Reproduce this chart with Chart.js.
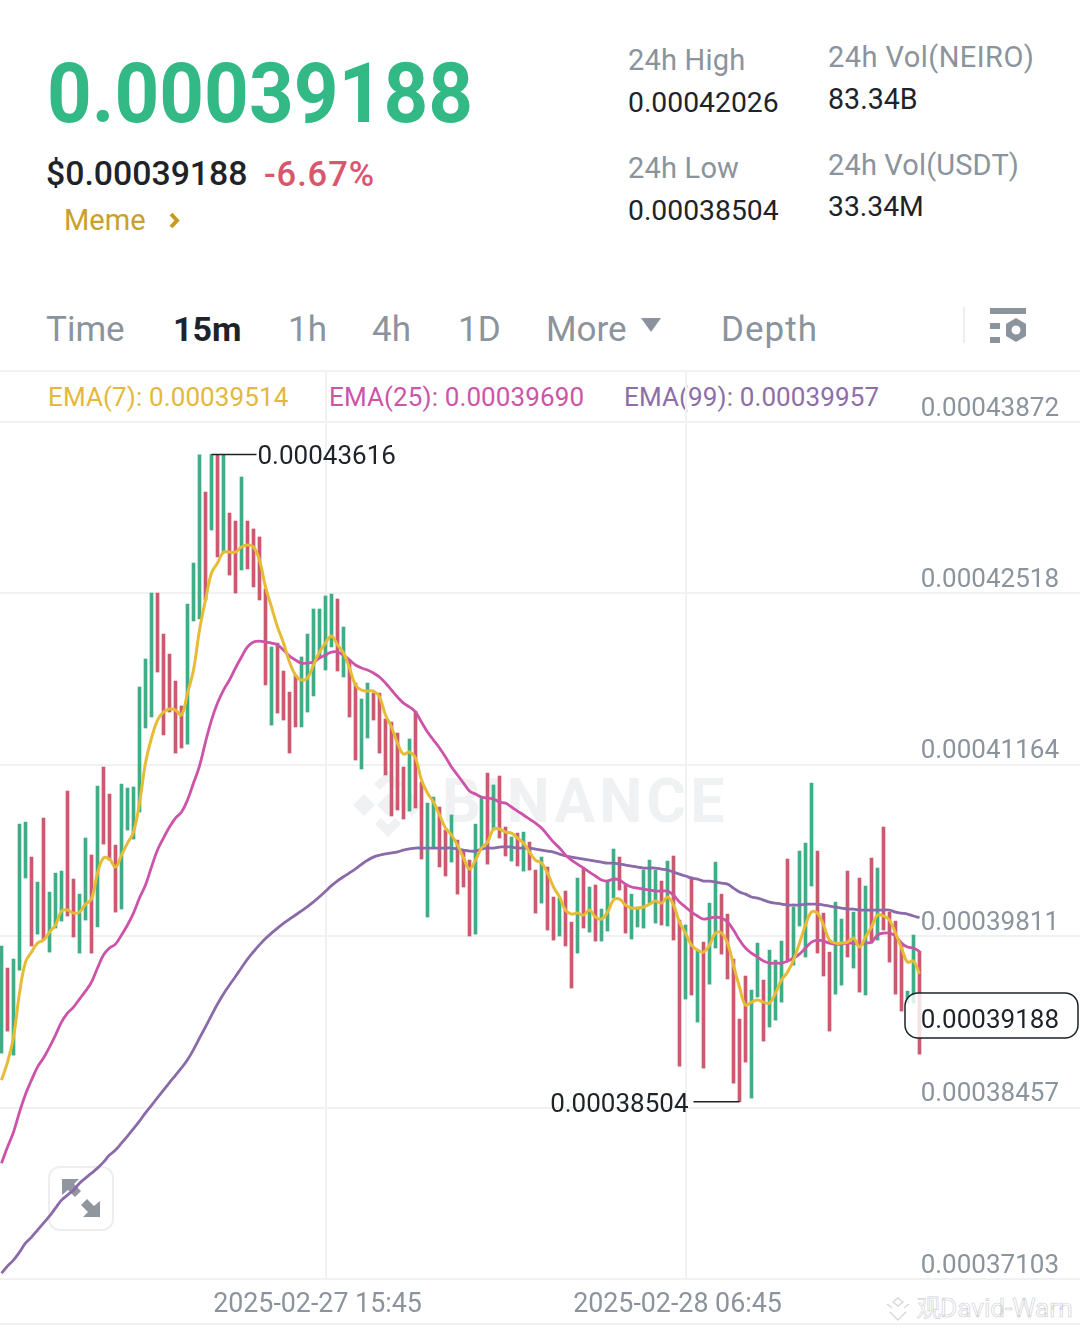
<!DOCTYPE html>
<html>
<head>
<meta charset="utf-8">
<title>NEIRO/USDT 15m</title>
<script src="https://cdn.jsdelivr.net/npm/chart.js@4"></script>
<style>
  html, body { margin: 0; padding: 0; background: #fff; }
  body { width: 1080px; height: 1329px; position: relative; overflow: hidden; font-family: Roboto, sans-serif; color: #1e2329; }
  .t { position: absolute; white-space: nowrap; line-height: 1; }
  .gray { color: #8b939c; }
  .rule { position: absolute; left: 0; width: 1080px; height: 2px; background: #f0f1f3; }
  canvas { position: absolute; left: 0; top: 372px; }
</style>
</head>
<body>
<div class="t" style="left:47px;top:52px;font-size:84px;font-weight:700;color:#33b986;transform-origin:0 0;transform:scale(.93,1);">0.00039188</div>
<div class="t" style="left:46px;top:157px;font-size:33.8px;font-weight:500;">$0.00039188</div>
<div class="t" style="left:264px;top:157px;font-size:34.5px;font-weight:500;color:#d9576c;letter-spacing:.9px;">-6.67%</div>
<div class="t" style="left:64px;top:206px;font-size:29px;color:#c9a02e;">Meme</div>
<svg style="position:absolute;left:168px;top:212px" width="14" height="18" viewBox="0 0 14 18"><path d="M3 2l6 6.5-6 6.5" fill="none" stroke="#c99a1e" stroke-width="4"/></svg>

<div class="t gray" style="left:628px;top:46px;font-size:29px;letter-spacing:.2px;">24h High</div>
<div class="t" style="left:628px;top:89px;font-size:28.3px;">0.00042026</div>
<div class="t gray" style="left:628px;top:154px;font-size:29px;letter-spacing:.2px;">24h Low</div>
<div class="t" style="left:628px;top:197px;font-size:28.3px;">0.00038504</div>
<div class="t gray" style="left:828px;top:43px;font-size:29px;letter-spacing:.45px;">24h Vol(NEIRO)</div>
<div class="t" style="left:828px;top:85px;font-size:28.6px;">83.34B</div>
<div class="t gray" style="left:828px;top:151px;font-size:29px;letter-spacing:.15px;">24h Vol(USDT)</div>
<div class="t" style="left:828px;top:193px;font-size:28.3px;">33.34M</div>

<div class="t gray" style="left:46px;top:312px;font-size:35px;">Time</div>
<div class="t" style="left:173px;top:312px;font-size:34px;font-weight:700;">15m</div>
<div class="t gray" style="left:288px;top:312px;font-size:35px;">1h</div>
<div class="t gray" style="left:372px;top:312px;font-size:35px;">4h</div>
<div class="t gray" style="left:458px;top:312px;font-size:35px;">1D</div>
<div class="t gray" style="left:546px;top:312px;font-size:35px;">More</div>
<svg style="position:absolute;left:641px;top:318px" width="20" height="14"><path d="M0 0h20l-10 14z" fill="#8b939c"/></svg>
<div class="t gray" style="left:721px;top:312px;font-size:35px;letter-spacing:1px;">Depth</div>
<div style="position:absolute;left:963px;top:307px;width:2px;height:36px;background:#eceef0"></div>
<svg style="position:absolute;left:990px;top:308px" width="38" height="38" viewBox="0 0 38 38" fill="#8b939c">
  <rect x="0" y="0" width="36" height="6"/><rect x="0" y="15" width="10" height="6"/><rect x="0" y="29" width="10" height="6"/>
  <path d="M26 10l10 6v12l-10 6-10-6V16z"/><circle cx="26" cy="22" r="4.5" fill="#fff"/>
</svg>

<div class="rule" style="top:370px"></div>
<div class="rule" style="top:1323px"></div>

<!-- watermark and expand button sit behind the canvas -->
<svg style="position:absolute;left:352px;top:770px" width="88" height="70" viewBox="0 0 88 70" fill="#f0f1f2">
  <path d="M36 0l14 14-6 6-8-8-8 8-6-6zM12 24l11 11-11 11L1 35zM36 24l11 11-11 11-11-11zM60 24l11 11-11 11-11-11zM43 48l6 6-13 13-13-13 6-6 7 7z"/>
</svg>
<div class="t" style="left:442px;top:771px;font-size:61px;font-weight:700;color:#f0f1f2;letter-spacing:4px;">BINANCE</div>
<div style="position:absolute;left:48px;top:1166px;width:62px;height:61px;border:2px solid #eceef0;border-radius:12px;"></div>
<svg style="position:absolute;left:62px;top:1179px" width="38" height="38" viewBox="0 0 38 38" fill="#8f969e">
  <path d="M0 0h17l-5 5 7 7-6 6-7-7-6 5zM38 38H21l5-5-7-7 6-6 7 7 6-5z"/>
</svg>
<svg style="position:absolute;left:885px;top:1297px" width="26" height="24" viewBox="0 0 26 24" fill="none" stroke="#d5d8dc" stroke-width="1.4"><path d="M13 1l5 4-5 4-5-4zM2 7l5 4M24 7l-5 4M5 15l8 8 8-8"/></svg>
<div class="t" style="left:917px;top:1296px;font-size:24px;color:#fff;-webkit-text-stroke:.6px #cfd2d6;">观</div>
<div class="t" style="left:940px;top:1295px;font-size:26.2px;color:#fff;-webkit-text-stroke:.7px #cfd2d6;">David-Warn</div>

<div class="t" style="left:48px;top:384px;font-size:26px;color:#e3b93c;letter-spacing:.12px;">EMA(7): 0.00039514</div>
<div class="t" style="left:329px;top:384px;font-size:26px;color:#cc55a8;letter-spacing:.12px;">EMA(25): 0.00039690</div>
<div class="t" style="left:624px;top:384px;font-size:26px;color:#8e6ea8;letter-spacing:.12px;">EMA(99): 0.00039957</div>

<canvas id="klineChart" width="1080" height="957"></canvas>

<script>
// prices below are in units of 1e-8 USDT
const highs = [
  39733,39559,39630,40696,40712,40436,40238,40744,40159,40309,
  40325,40957,40262,40143,40586,40452,40997,41147,40933,40530,
  41012,40981,40989,41779,42000,42521,42521,42197,42039,41826,
  41629,42434,42758,43612,43319,43616,43612,43612,43153,43090,
  43438,43090,43027,42964,42553,42095,42126,41905,41739,41873,
  42016,42197,42395,42395,42498,42513,42474,42253,41992,41810,
  41684,41810,41731,41731,41526,41502,41415,41147,41368,41589,
  41028,40862,40910,40831,40649,40768,40570,40491,40412,40696,
  40910,41099,41005,41076,40673,40594,40625,40633,40554,40333,
  40436,40357,40120,40112,40167,39922,40270,40349,40199,40215,
  40025,40254,40499,40436,40222,40143,40041,40333,40412,40333,
  40246,40404,40444,39938,39899,40278,39701,39764,40072,40396,
  40143,39985,39630,39156,39496,39385,39756,39464,39701,39622,
  39772,40420,40041,40483,40546,41020,40483,39993,39685,40080,
  39946,40325,40001,40270,40207,40428,40349,40673,40001,39930,
  39756,39377,39820,39693
];
const lows = [
  38887,39061,38871,39543,40270,39733,39827,39780,39685,39875,
  39930,39970,39804,39677,39938,39677,39883,40538,40412,40001,
  40025,40649,40578,40791,41455,41542,41897,41400,41581,41257,
  41297,41328,42300,42316,42466,43019,42806,42837,42663,42521,
  42703,42711,42569,42466,41795,41478,41573,41518,41257,41463,
  41463,41581,41708,42016,41913,42095,41905,41858,41542,41202,
  41131,41376,41518,41257,41084,40760,40807,40736,40799,40823,
  40420,39962,40515,40357,40286,40396,40143,40199,39812,39827,
  40507,40380,40649,40586,40444,40404,40365,40325,40333,39993,
  40072,39859,39780,39812,39733,39401,39677,39875,39843,39772,
  39772,39851,40112,40175,39835,39788,39883,39875,40072,39914,
  39899,39891,39780,38785,39314,39346,39132,38769,39432,39717,
  39669,39472,38650,38504,38816,38532,39330,38982,39093,39148,
  39290,39622,39582,39891,39646,40207,39677,39496,39061,39353,
  39424,39646,39559,39369,39346,39756,39780,39859,39606,39353,
  39219,39282,39282,38879
];
const upFlags = [
  1,0,1,1,1,0,1,0,1,1, 1,0,0,1,1,0,1,0,0,0, 1,1,1,1,1,1,0,0,0,0,
  0,1,1,1,0,1,0,1,0,0, 1,0,0,0,0,1,0,0,0,0, 1,1,1,1,1,1,0,1,0,0,
  1,1,0,0,0,0,0,0,1,0, 0,1,1,0,0,1,0,0,0,1, 1,0,1,0,0,1,0,1,0,0,
  1,0,0,1,0,0,1,0,1,0, 1,1,1,0,0,1,1,1,1,1, 0,1,0,0,1,0,1,0,1,1,
  0,0,0,0,0,1,1,0,1,1, 1,0,1,1,1,1,0,0,0,1, 1,0,1,0,1,0,1,0,0,0,
  0,1,1,0
];
const ema7 = [
  38674,38816,39014,39361,39606,39685,39756,39780,39843,39899,
  40009,40017,39993,40001,40064,40104,40309,40428,40420,40357,
  40452,40546,40633,40862,41178,41376,41518,41581,41605,41597,
  41558,41731,41913,42229,42466,42679,42758,42845,42845,42845,
  42885,42901,42885,42782,42569,42411,42253,42126,41976,41873,
  41834,41850,41953,42055,42126,42182,42111,42047,41929,41795,
  41755,41747,41747,41700,41558,41463,41336,41249,41265,41218,
  41044,40941,40870,40768,40665,40610,40530,40428,40341,40412,
  40507,40554,40657,40657,40633,40625,40586,40546,40475,40412,
  40388,40309,40199,40120,40017,39985,39993,39978,40017,39962,
  39946,40001,40096,40104,40057,40033,40033,40041,40064,40088,
  40072,40120,40057,39922,39835,39741,39701,39685,39741,39835,
  39835,39756,39582,39409,39267,39290,39306,39290,39282,39361,
  39464,39527,39622,39756,39899,40001,39993,39899,39780,39756,
  39756,39764,39796,39725,39804,39883,39978,39970,39938,39835,
  39717,39606,39614,39514
];
const ema25 = [
  38018,38145,38263,38421,38563,38674,38777,38848,38935,39030,
  39132,39203,39251,39314,39377,39448,39559,39662,39717,39748,
  39820,39899,39993,40112,40215,40357,40491,40586,40673,40744,
  40791,40886,41020,41155,41344,41518,41652,41755,41834,41929,
  42016,42095,42134,42142,42134,42126,42111,42071,42024,41992,
  41968,41968,41976,42008,42032,42055,42055,42032,41992,41953,
  41929,41913,41889,41858,41810,41755,41700,41652,41621,41581,
  41502,41423,41360,41297,41226,41147,41084,41020,40957,40933,
  40910,40902,40894,40870,40862,40831,40799,40768,40736,40704,
  40665,40610,40554,40507,40452,40412,40380,40349,40317,40286,
  40254,40246,40262,40254,40222,40199,40191,40183,40175,40167,
  40167,40167,40135,40080,40041,40001,39970,39946,39954,39962,
  39954,39922,39859,39780,39717,39677,39646,39614,39598,39598,
  39598,39614,39638,39669,39717,39764,39780,39772,39756,39748,
  39748,39756,39756,39748,39756,39764,39820,39835,39835,39812,
  39756,39725,39717,39690
];
const ema99 = [
  37149,37205,37252,37315,37386,37434,37489,37544,37600,37663,
  37726,37766,37805,37860,37900,37939,37979,38026,38082,38121,
  38176,38232,38290,38350,38415,38475,38535,38595,38655,38712,
  38770,38835,38915,39005,39095,39185,39275,39355,39425,39492,
  39562,39630,39688,39742,39792,39835,39875,39912,39945,39978,
  40010,40045,40082,40122,40166,40210,40248,40280,40311,40343,
  40378,40410,40435,40450,40460,40468,40477,40490,40500,40507,
  40507,40507,40507,40507,40507,40507,40499,40491,40483,40483,
  40499,40507,40507,40515,40515,40515,40507,40507,40507,40499,
  40491,40483,40475,40459,40444,40436,40428,40420,40412,40404,
  40396,40388,40388,40380,40372,40365,40357,40349,40349,40349,
  40341,40333,40317,40301,40286,40270,40262,40246,40246,40238,
  40230,40222,40191,40159,40143,40120,40112,40096,40080,40072,
  40064,40057,40057,40057,40064,40064,40064,40057,40049,40041,
  40033,40025,40025,40017,40017,40017,40017,40017,40017,40001,
  39993,39985,39970,39957
];
const priceTicks = [43872, 42518, 41164, 39811, 38457, 37103];
const timeTicks = [54, 114];
const timeLabels = ['2025-02-27 15:45', '2025-02-28 06:45'];
const lastPrice = 39188;
const peak = { index: 35, price: 43616 };
const trough = { index: 123, price: 38504 };

const GREEN = '#3fae87';
const RED = '#cb5a70';
const fmt = v => (v / 1e8).toFixed(8);
const pts = arr => arr.map((y, i) => ({ x: i, y }));

// the little leader labels and the last price pill
const priceMarks = {
  id: 'priceMarks',
  afterDatasetsDraw(chart) {
    const { ctx, scales: { x, y } } = chart;
    ctx.save();
    ctx.font = '26px Roboto';
    ctx.textBaseline = 'middle';
    ctx.strokeStyle = ctx.fillStyle = '#1e2329';
    ctx.lineWidth = 1.5;

    const py = y.getPixelForValue(peak.price);
    const px = x.getPixelForValue(peak.index);
    ctx.beginPath(); ctx.moveTo(px, py); ctx.lineTo(px + 45, py); ctx.stroke();
    ctx.textAlign = 'left';
    ctx.fillText(fmt(peak.price), px + 46, py + 3);

    const ty = y.getPixelForValue(trough.price);
    const tx = x.getPixelForValue(trough.index);
    ctx.beginPath(); ctx.moveTo(tx, ty); ctx.lineTo(tx - 46, ty); ctx.stroke();
    ctx.textAlign = 'right';
    ctx.fillText(fmt(trough.price), tx - 51, ty + 4);

    const ly = y.getPixelForValue(lastPrice);
    ctx.beginPath();
    ctx.roundRect(905, ly - 22, 173, 45, 13);
    ctx.fillStyle = 'rgba(255,255,255,.82)';
    ctx.fill();
    ctx.stroke();
    ctx.fillStyle = '#1e2329';
    ctx.textAlign = 'right';
    ctx.fillText(fmt(lastPrice), 1059, ly + 6);
    ctx.restore();
  }
};

const line = (label, data, color, order, width) => ({
  type: 'line', label, data: pts(data), borderColor: color, borderWidth: width,
  pointRadius: 0, tension: 0.4, order
});

new Chart(document.getElementById('klineChart').getContext('2d'), {
  type: 'bar',
  data: {
    datasets: [
      line('EMA(7)', ema7, '#e6bc37', 0, 3),
      line('EMA(25)', ema25, '#cd53a9', 1, 2.8),
      line('EMA(99)', ema99, '#8b6aa9', 2, 2.8),
      {
        label: 'kline',
        data: highs.map((h, i) => ({ x: i, y: [lows[i], h] })),
        backgroundColor: upFlags.map(u => (u ? GREEN : RED)),
        barThickness: 3,
        order: 3
      }
    ]
  },
  options: {
    responsive: false,
    animation: false,
    layout: { padding: 0 },
    plugins: { legend: { display: false }, tooltip: { enabled: false } },
    scales: {
      x: {
        type: 'linear',
        min: -0.25,
        max: 179.75,
        offset: false,
        grid: { color: '#eff1f2', lineWidth: 2, offset: false, drawTicks: false },
        border: { display: false },
        afterBuildTicks: s => { s.ticks = timeTicks.map(value => ({ value })); },
        afterFit: s => { s.height = 50; s.paddingLeft = 0; s.paddingRight = 0; },
        ticks: {
          autoSkip: false, maxRotation: 0, padding: 10, labelOffset: -8,
          color: '#8b939c', font: { family: 'Roboto', size: 26.8 },
          callback: v => timeLabels[timeTicks.indexOf(v)]
        }
      },
      y: {
        position: 'right',
        min: 37103,
        max: 44267,
        grid: { color: '#eff1f2', lineWidth: 2, drawTicks: false },
        border: { display: false },
        afterBuildTicks: s => { s.ticks = priceTicks.map(value => ({ value })); },
        afterFit: s => { s.width = 0; s.paddingTop = 0; s.paddingBottom = 0; },
        ticks: {
          mirror: true, padding: -21, labelOffset: -13,
          color: '#8b939c', font: { family: 'Roboto', size: 26 },
          callback: fmt
        }
      }
    }
  },
  plugins: [priceMarks]
});
</script>
</body>
</html>
